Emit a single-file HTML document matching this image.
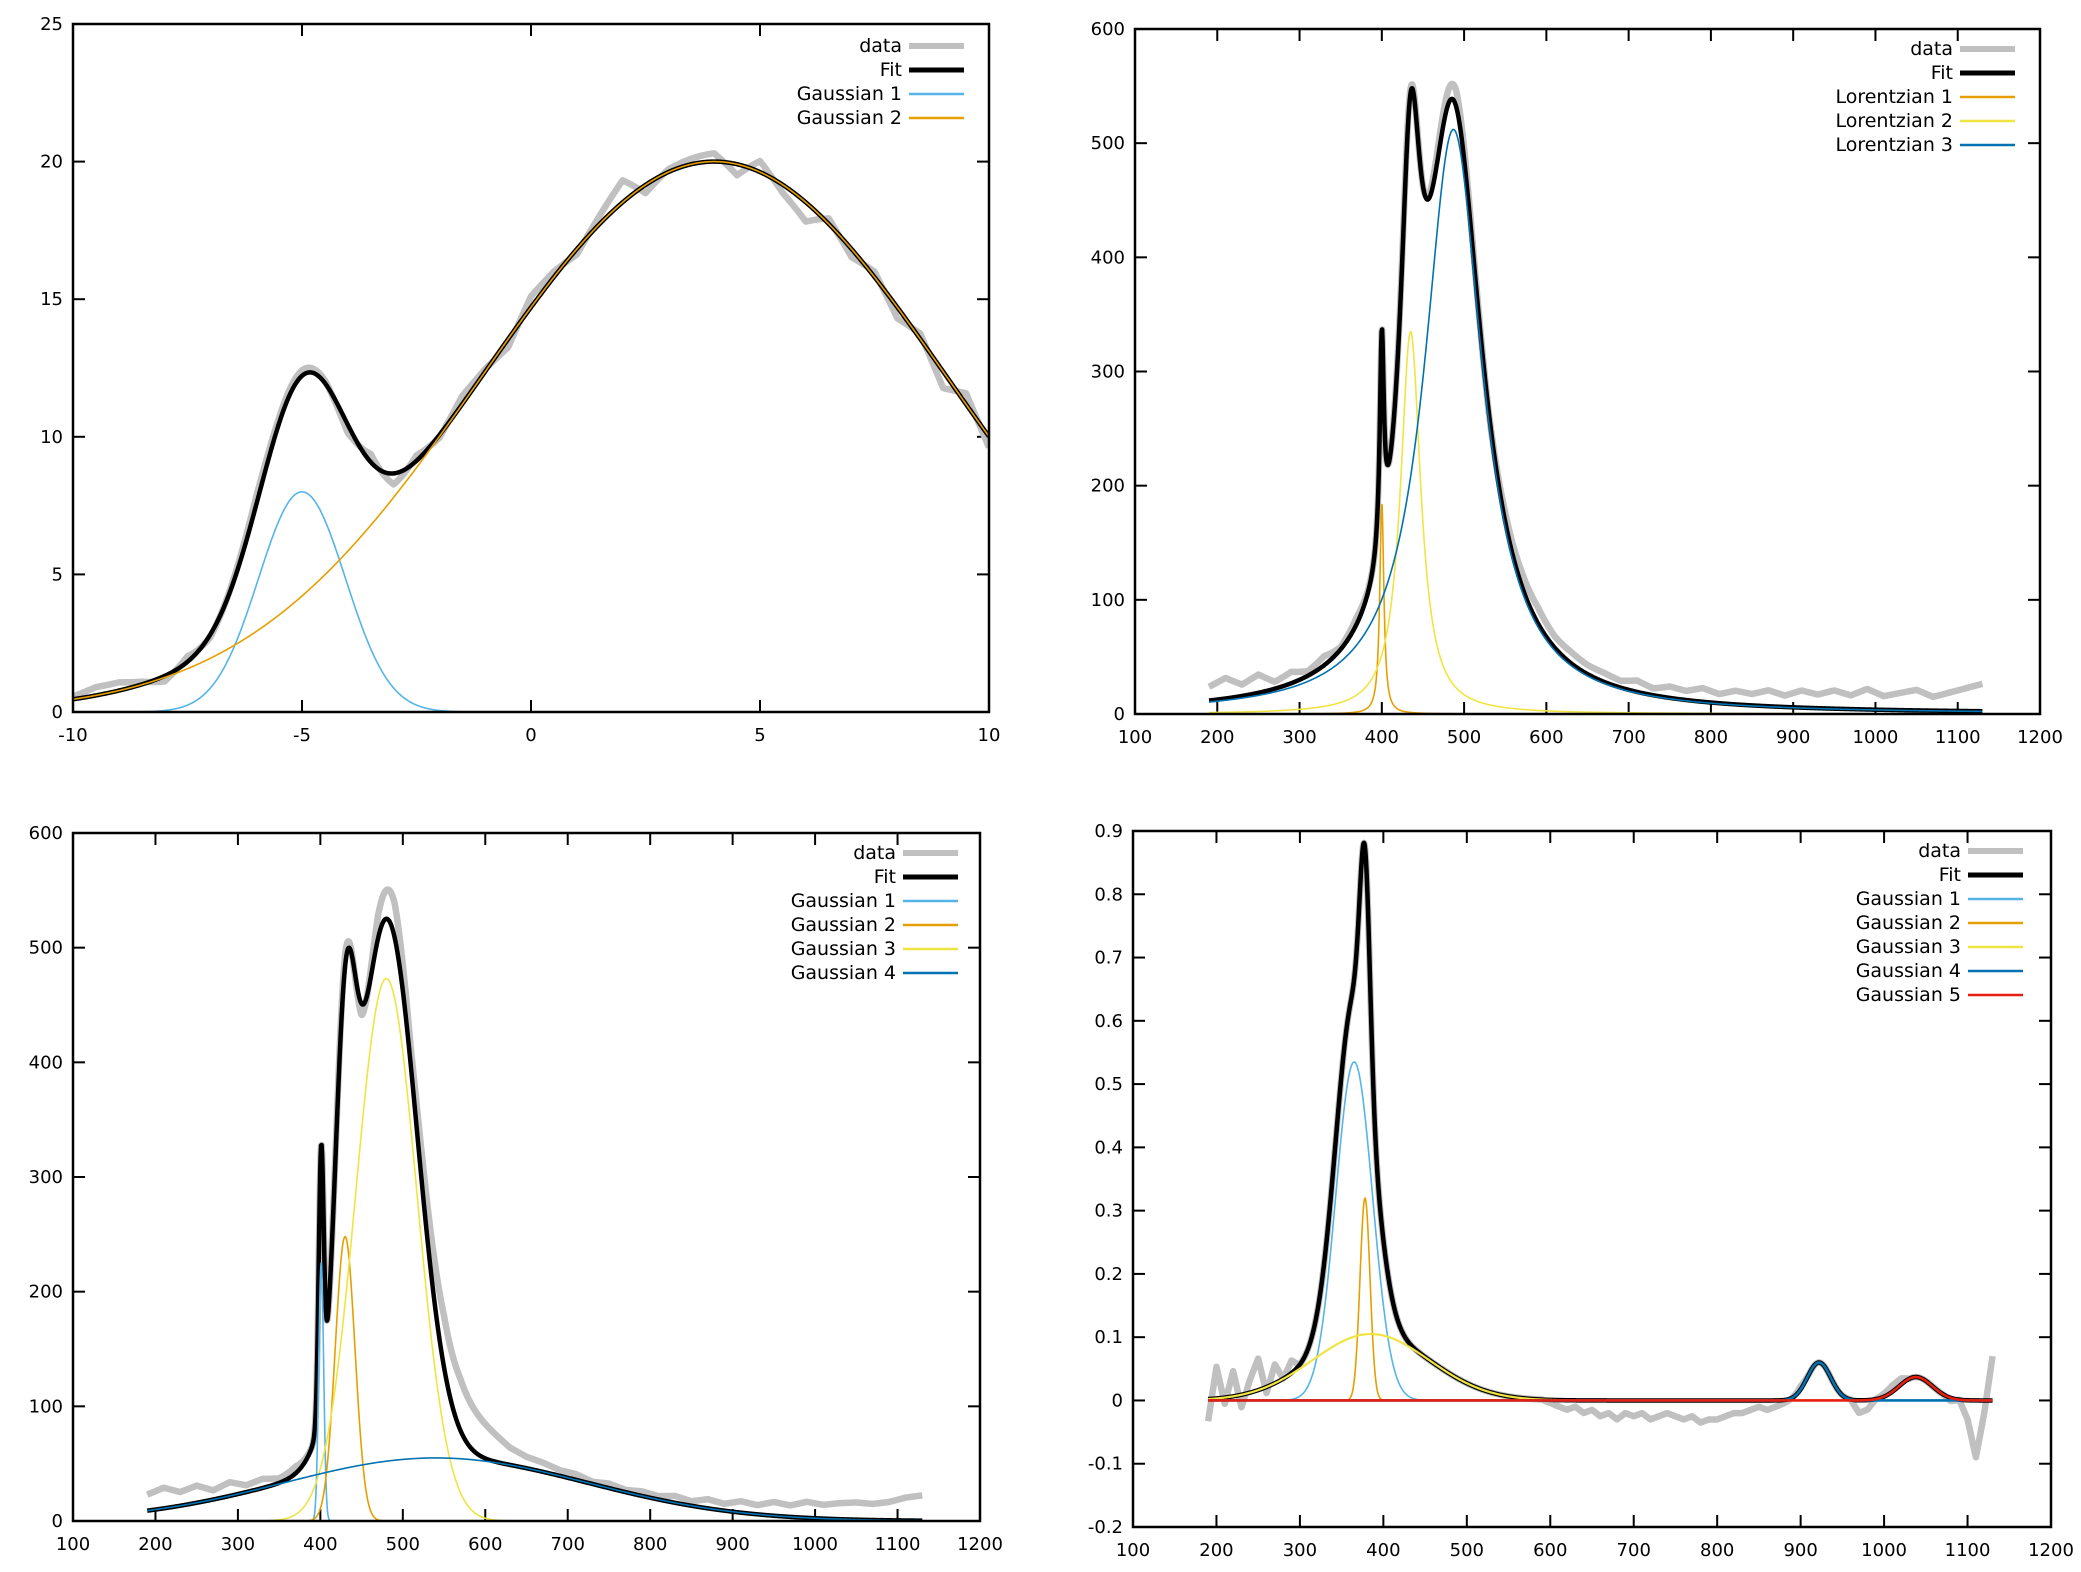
<!DOCTYPE html>
<html><head><meta charset="utf-8"><style>
html,body{margin:0;padding:0;background:#fff}
svg{display:block;font-family:"DejaVu Sans","Liberation Sans",sans-serif}
</style></head><body>
<svg id="chart" width="2081" height="1572" viewBox="0 0 2081 1572" xmlns="http://www.w3.org/2000/svg"></svg>
<script>
// ---------- Panel 1 data ----------
const p1Labels = ["data","Fit","Gaussian 1","Gaussian 2"];
const p1Amp = [8, 20];
const p1Center = [-5, 4];
const p1Sigma = [0.95, 5.1];
const p1Resid = [0.1,0.3,0.3,0.1,-0.2,0.2,-0.1,0.1,0.3,0.2,0.2,0.1,-0.3,0.3,-0.4,0.2,-0.1,0.3,0.1,-0.3,0.4,0.2,-0.2,0.3,0.8,-0.3,0.1,0.2,0.3,-0.4,0.4,-0.3,-0.7,0.2,-0.3,0.2,-0.4,0.2,-0.6,0.4,-0.4,0.2,0.3];
const p1XTicks = [-10,-5,0,5,10];
const p1YTicks = [0,5,10,15,20,25];
// ---------- Panel 2 data ----------
const p2Labels = ["data","Fit","Lorentzian 1","Lorentzian 2","Lorentzian 3"];
const p2Amp = [185, 335, 512];
const p2Center = [400, 435, 487];
const p2Gamma = [3, 15, 43];
const p2Resid = [12,18,10,16,6,10,4,8,2,6,0,0,5,0,10,14,5,0,8,12,14,10,10,8,8,6,10,6,10,8,12,8,12,10,14,10,15,12,16,12,18,12,15,18,12,16,20,24];
// ---------- Panel 3 data ----------
const p3Labels = ["data","Fit","Gaussian 1","Gaussian 2","Gaussian 3","Gaussian 4"];
const p3Amp = [225, 248, 473, 55];
const p3Center = [401, 430, 480, 540];
const p3Sigma = [3, 12, 37, 184];
const p3Resid = [14,18,12,15,8,12,6,8,4,6,0,0,10,-10,20,30,15,30,45,45,35,25,15,10,8,5,5,2,4,2,4,3,6,4,8,6,10,8,12,10,14,12,14,15,14,16,20,22];
const xTicksWide = [100,200,300,400,500,600,700,800,900,1000,1100,1200];
const p23YTicks = [0,100,200,300,400,500,600];
// ---------- Panel 4 data ----------
const p4Labels = ["data","Fit","Gaussian 1","Gaussian 2","Gaussian 3","Gaussian 4","Gaussian 5"];
const p4Amp = [0.535, 0.32, 0.105, 0.06, 0.037];
const p4Center = [365, 378, 385, 922, 1038];
const p4Sigma = [22, 6, 70, 14, 20];
const p4Resid = [-0.035,0.05,-0.01,0.04,-0.02,0.02,0.05,-0.01,0.03,0,0.02,
0,0,0,0,0,0,0,0,0,0,0,0,0,0,0,0,0,0,0,0,0,0,0,0,0,0,0,0,0,0,
-0.005,-0.01,-0.015,-0.01,-0.02,-0.015,-0.025,-0.02,-0.03,-0.02,-0.025,-0.02,-0.03,-0.025,-0.02,-0.025,-0.03,-0.025,-0.035,-0.03,-0.03,-0.025,-0.02,-0.02,-0.015,-0.01,-0.015,-0.01,-0.005,0,0.005,0,0,0,0,0,0,-0.02,-0.015,0,0.005,0.01,0.01,0,0,0,0,0,-0.005,0,-0.03,-0.09,-0.02,0.07];
const p4YTicks = [-0.2,-0.1,0,0.1,0.2,0.3,0.4,0.5,0.6,0.7,0.8,0.9];

const COL = {lb:"#56b4e9", or:"#e69f00", ye:"#f0e442", bl:"#0072b2", rd:"#e51e10"};
const svg = document.getElementById('chart');
const NS = "http://www.w3.org/2000/svg";
function mk(tag, attrs, parent){const e=document.createElementNS(NS,tag);for(const k in attrs)e.setAttribute(k,attrs[k]);parent.appendChild(e);return e;}
const gauss=(a,c,s)=>x=>a*Math.exp(-(x-c)*(x-c)/(2*s*s));
const lor=(a,c,g)=>x=>a/(1+((x-c)/g)*((x-c)/g));
function interp(arr,x0,step,x){let t=(x-x0)/step;if(t<=0)return arr[0];if(t>=arr.length-1)return arr[arr.length-1];const i=Math.floor(t),f=t-i;return arr[i]*(1-f)+arr[i+1]*f;}

function panel(cfg){
  const g = mk('g',{},svg);
  
  
  const {L,R,T,B,x0,x1,y0,y1}=cfg;
  const sx=x=>L+(x-x0)/(x1-x0)*(R-L), sy=y=>B-(y-y0)/(y1-y0)*(B-T);
  const clip='clip-'+cfg.name;
  const cp=mk('clipPath',{id:clip},g); mk('rect',{x:L,y:T,width:R-L,height:B-T},cp);
  cfg.xt.forEach(v=>{
    mk('line',{x1:sx(v),y1:B,x2:sx(v),y2:B-12,stroke:"#000","stroke-width":2},g);
    mk('line',{x1:sx(v),y1:T,x2:sx(v),y2:T+12,stroke:"#000","stroke-width":2},g);
    const t=mk('text',{x:sx(v),y:B+29,"text-anchor":"middle","font-size":18},g);t.textContent=cfg.fx?cfg.fx(v):v;
    
    
  });
  cfg.yt.forEach(v=>{
    mk('line',{x1:L,y1:sy(v),x2:L+12,y2:sy(v),stroke:"#000","stroke-width":2},g);
    mk('line',{x1:R,y1:sy(v),x2:R-12,y2:sy(v),stroke:"#000","stroke-width":2},g);
    const t=mk('text',{x:L-10,y:sy(v)+6,"text-anchor":"end","font-size":18},g);t.textContent=cfg.fy?cfg.fy(v):v;
    
    
  });
  const N=1600, plot=mk('g',{"clip-path":`url(#${clip})`},g);
  function curve(f,a,b,color,w,name){
    let d="";for(let i=0;i<=N;i++){const x=a+(b-a)*i/N;d+=(i?"L":"M")+sx(x).toFixed(2)+","+sy(f(x)).toFixed(2);}
    const p=mk('path',{d,fill:"none",stroke:color,"stroke-width":w,"stroke-linejoin":"round"},plot);
    
    
  }
  const fit=x=>cfg.comps.reduce((s,c)=>s+c.f(x),0);
  curve(x=>fit(x)+cfg.resid(x),cfg.da,cfg.db,"#c0c0c0",6.5,"data-series");
  curve(fit,cfg.da,cfg.db,"#000",4.5,"fit-curve");
  cfg.comps.forEach((c,i)=>curve(c.f,cfg.da,cfg.db,c.col,c.w||1.6,"component-"+(i+1)));
  mk('rect',{x:L,y:T,width:R-L,height:B-T,fill:"none",stroke:"#000","stroke-width":2.5},g);
  const lg=mk('g',{},g);
  
  
  const cols=["#c0c0c0","#000"].concat(cfg.comps.map(c=>c.col));
  const ws=[6,5].concat(cfg.comps.map(()=>2.5));
  cfg.labels.forEach((lab,i)=>{
    const y=cfg.ly+i*24;
    const t=mk('text',{x:cfg.lx,y:y+6,"text-anchor":"end","font-size":19},lg);t.textContent=lab;
    
    
    mk('line',{x1:cfg.lx+7,y1:y,x2:cfg.lx+62,y2:y,stroke:cols[i],"stroke-width":ws[i]},lg);
  });
}

panel({name:"panel-gaussian-2",L:73,R:989,T:24,B:712,x0:-10,x1:10,y0:0,y1:25,da:-10,db:10,
  xt:p1XTicks,yt:p1YTicks,labels:p1Labels,lx:902,ly:46,
  resid:x=>interp(p1Resid,-10,0.5,x),
  comps:[{f:gauss(p1Amp[0],p1Center[0],p1Sigma[0]),col:COL.lb},{f:gauss(p1Amp[1],p1Center[1],p1Sigma[1]),col:COL.or}]});

panel({name:"panel-lorentzian-3",L:1135,R:2040,T:29,B:714,x0:100,x1:1200,y0:0,y1:600,da:190,db:1130,
  xt:xTicksWide,yt:p23YTicks,labels:p2Labels,lx:1953,ly:49,
  resid:x=>interp(p2Resid,190,20,x),
  comps:[0,1,2].map(i=>({f:lor(p2Amp[i],p2Center[i],p2Gamma[i]),col:[COL.or,COL.ye,COL.bl][i]}))});

panel({name:"panel-gaussian-4",L:73,R:980,T:833,B:1521,x0:100,x1:1200,y0:0,y1:600,da:190,db:1130,
  xt:xTicksWide,yt:p23YTicks,labels:p3Labels,lx:896,ly:853,
  resid:x=>interp(p3Resid,190,20,x),
  comps:[0,1,2,3].map(i=>({f:gauss(p3Amp[i],p3Center[i],p3Sigma[i]),col:[COL.lb,COL.or,COL.ye,COL.bl][i]}))});

panel({name:"panel-gaussian-5",L:1133,R:2051,T:831,B:1527,x0:100,x1:1200,y0:-0.2,y1:0.9,da:190,db:1130,
  xt:xTicksWide,yt:p4YTicks,labels:p4Labels,lx:1961,ly:851,fy:v=>(Math.round(v*10)/10).toString(),
  resid:x=>interp(p4Resid,190,10,x),
  comps:[0,1,2,3,4].map(i=>({f:gauss(p4Amp[i],p4Center[i],p4Sigma[i]),col:[COL.lb,COL.or,COL.ye,COL.bl,COL.rd][i],w:[1.6,1.6,2.2,2.6,2.6][i]}))});
</script>
</body></html>
